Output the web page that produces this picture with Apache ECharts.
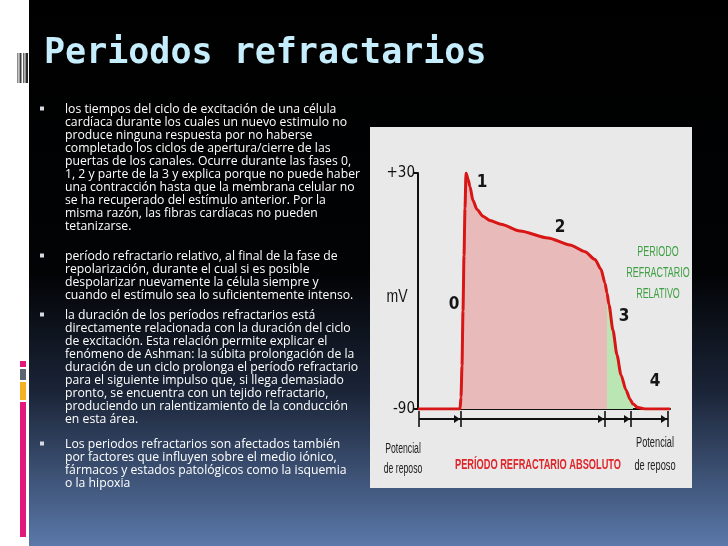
<!DOCTYPE html>
<html><head><meta charset="utf-8">
<script src="https://cdn.jsdelivr.net/npm/echarts@6/dist/echarts.min.js"></script>
<style>html,body{margin:0;padding:0;background:#fff;overflow:hidden}#c{width:728px;height:546px}</style>
</head><body><div id="c"></div>
<script>
// ---- data ----
const titleText = 'Periodos refractarios';
const bullet1Lines = [
  'los tiempos del ciclo de excitación de una célula',
  'cardíaca durante los cuales un nuevo estimulo no',
  'produce ninguna respuesta por no haberse',
  'completado los ciclos de apertura/cierre de las',
  'puertas de los canales. Ocurre durante las fases 0,',
  '1, 2 y parte de la 3 y explica porque no puede haber',
  'una contracción hasta que la membrana celular no',
  'se ha recuperado del estímulo anterior. Por la',
  'misma razón, las fibras cardíacas no pueden',
  'tetanizarse.'
];
const bullet2Lines = [
  'período refractario relativo, al final de la fase de',
  'repolarización, durante el cual si es posible',
  'despolarizar nuevamente la célula siempre y',
  'cuando el estímulo sea lo suficientemente intenso.'
];
const bullet3Lines = [
  'la duración de los períodos refractarios está',
  'directamente relacionada con la duración del ciclo',
  'de excitación. Esta relación permite explicar el',
  'fenómeno de Ashman: la súbita prolongación de la',
  'duración de un ciclo prolonga el período refractario',
  'para el siguiente impulso que, si llega demasiado',
  'pronto, se encuentra con un tejido refractario,',
  'produciendo un ralentizamiento de la conducción',
  'en esta área.'
];
const bullet4Lines = [
  'Los periodos refractarios son afectados también',
  'por factores que influyen sobre el medio iónico,',
  'fármacos y estados patológicos como la isquemia',
  'o la hipoxia'
];
// action potential: time (arbitrary units) and membrane potential (mV)
const timeUnits = [0, 42, 43, 44, 45, 46, 47, 48, 50, 52, 55, 59, 65, 72, 83, 102, 130, 152, 167, 177, 183, 187, 189, 191, 195, 199, 203, 208, 212, 215, 220, 227, 252];
const membraneMv = [-90, -90, -84, -68, -40, -12, 12, 30, 27, 23, 16, 11.5, 8, 5.8, 4, 0.5, -3, -6.6, -10, -14, -19, -26, -31, -37, -50, -62.5, -72.7, -80.3, -85, -87.5, -89.3, -90, -90];
const upstrokeStart = 42;   // start of absolute refractory period
const absoluteEnd = 189;    // end of absolute refractory fill
const relativeEnd = 215;    // end of relative refractory fill
const yTickValues = [-90, 30];
const phaseNames = ['0', '1', '2', '3', '4'];
const phaseTime = [36, 64, 142, 206, 237];
const phaseMv = [-37, 25, 2, -43, -76];
const periodBounds = [1, 43, 187, 213, 250];
const relativeLabel = ['PERIODO', 'REFRACTARIO', 'RELATIVO'];
const absoluteLabel = 'PERÍODO REFRACTARIO ABSOLUTO';
const restLabel = ['Potencial', 'de reposo'];

// ---- build ----
const curve = timeUnits.map((t, i) => [t, membraneMv[i]]);
const absFill = curve.filter(p => p[0] >= upstrokeStart && p[0] <= absoluteEnd);
const relFill = curve.filter(p => p[0] >= absoluteEnd && p[0] <= relativeEnd);
const NARROW = "'Liberation Sans Narrow','DejaVu Sans Condensed',sans-serif";

const chart = echarts.init(document.getElementById('c'), null, {renderer: 'canvas'});
const option = {
  animation: false,
  backgroundColor: 'transparent',
  grid: {left: 418, top: 173, width: 252, height: 236, containLabel: false},
  xAxis: {
    type: 'value', min: 0, max: 252,
    axisLine: {show: true, onZero: false, lineStyle: {color: '#111', width: 2}},
    axisTick: {show: false}, axisLabel: {show: false}, splitLine: {show: false}
  },
  yAxis: {
    type: 'value', min: yTickValues[0], max: yTickValues[1], interval: yTickValues[1] - yTickValues[0],
    axisLine: {show: true, lineStyle: {color: '#111', width: 2}},
    axisTick: {show: true, length: 5, lineStyle: {color: '#111', width: 2}},
    axisLabel: {show: true, margin: 3, color: '#111', fontSize: 15, fontFamily: NARROW,
      formatter: v => (v > 0 ? '+' + v : String(v))},
    splitLine: {show: false}
  },
  series: [
    {type: 'line', data: absFill, smooth: 0.25, smoothMonotone: 'x', showSymbol: false, silent: true,
      lineStyle: {width: 0}, areaStyle: {color: '#e8baba', opacity: 1, origin: 'start'}, z: 1},
    {type: 'line', data: relFill, smooth: 0.25, smoothMonotone: 'x', showSymbol: false, silent: true,
      lineStyle: {width: 0}, areaStyle: {color: '#b9e6b3', opacity: 1, origin: 'start'}, z: 1},
    {type: 'line', data: curve, smooth: 0.25, smoothMonotone: 'x', showSymbol: false, silent: true,
      lineStyle: {color: '#d81616', width: 3}, z: 3,
      markPoint: {
        symbol: 'circle', symbolSize: 0, silent: true,
        label: {show: true, position: 'inside', formatter: p => p.name, color: '#151515',
          fontSize: 17, fontWeight: 'bold', fontFamily: NARROW},
        data: phaseNames.map((n, i) => ({name: n, coord: [phaseTime[i], phaseMv[i]]}))
      }}
  ]
};
chart.setOption(option);

// ---- decorations / annotations ----
const els = [];
// slide background
els.push({type: 'rect', z: -20, shape: {x: 0, y: 0, width: 728, height: 546}, style: {fill: '#ffffff'}});
els.push({type: 'rect', z: -19, shape: {x: 29, y: 0, width: 699, height: 546},
  style: {fill: new echarts.graphic.LinearGradient(0, 0, 0, 1, [
    {offset: 0, color: '#000000'}, {offset: 0.5, color: '#020305'},
    {offset: 0.72, color: '#1b2538'}, {offset: 1, color: '#5a78a9'}])}});
// barcode
[[17, 1.5, '#8a8a8a'], [19.5, 2, '#3a3a3a'], [23, 1.5, '#666'], [25.5, 2.5, '#2a2a2a']].forEach(b =>
  els.push({type: 'rect', z: -18, shape: {x: b[0], y: 53, width: b[1], height: 30}, style: {fill: b[2]}}));
// colour bars
[[361, 6, '#e0197b'], [369, 11, '#5c6572'], [382, 18, '#f4b123'], [402, 135, '#e0197b']].forEach(b =>
  els.push({type: 'rect', z: -18, shape: {x: 20, y: b[0], width: 6, height: b[1]}, style: {fill: b[2]}}));
// title
els.push({type: 'text', z: 5, x: 44, y: 36, style: {text: titleText, fill: '#c6edfb',
  font: "bold 35px 'DejaVu Sans Mono', monospace", verticalAlign: 'top'}});
// bullets
const lineStep = 13;
const blocks = [[bullet1Lines, 109], [bullet2Lines, 256], [bullet3Lines, 315], [bullet4Lines, 444]];
blocks.forEach(([lines, y0]) => {
  els.push({type: 'rect', z: 5, shape: {x: 40, y: y0 - 2.5, width: 4, height: 4}, style: {fill: '#d6d8e2'}});
  lines.forEach((ln, i) => els.push({type: 'text', z: 5, x: 65, y: y0 + i * lineStep, scaleX: 0.94,
    style: {text: ln, fill: '#ffffff', font: "13px 'Open Sans', sans-serif", verticalAlign: 'middle'}}));
});
// chart panel
els.push({type: 'rect', z: -15, shape: {x: 370, y: 127, width: 322, height: 361}, style: {fill: '#e9e9e9'}});
// mV label
els.push({type: 'text', z: 5, x: 397, y: 297, scaleX: 0.78, style: {text: 'mV', fill: '#151515',
  font: "18px 'Liberation Sans', sans-serif", align: 'center', verticalAlign: 'middle'}});
// relative period label
relativeLabel.forEach((s, i) => els.push({type: 'text', z: 5, x: 658, y: 252 + i * 21, scaleX: 0.64,
  style: {text: s, fill: '#3ea043', font: "14px 'Liberation Sans', sans-serif", align: 'center', verticalAlign: 'middle'}}));
// period arrows
const baseY = chart.convertToPixel({yAxisIndex: 0}, -90);
const bx = periodBounds.map(t => chart.convertToPixel({xAxisIndex: 0}, t));
const ay = baseY + 10;
els.push({type: 'line', z: 5, shape: {x1: bx[0], y1: ay, x2: bx[bx.length - 1], y2: ay}, style: {stroke: '#111', lineWidth: 2}});
bx.forEach((x, i) => {
  els.push({type: 'line', z: 5, shape: {x1: x, y1: ay - 8, x2: x, y2: ay + 8}, style: {stroke: '#111', lineWidth: 1.6}});
  if (i > 0) els.push({type: 'polygon', z: 5, shape: {points: [[x - 1, ay], [x - 7, ay - 4], [x - 7, ay + 4]]}, style: {fill: '#111'}});
});
// bottom labels
restLabel.forEach((s, i) => {
  els.push({type: 'text', z: 5, x: 403, y: 449 + i * 20, scaleX: 0.62, style: {text: s, fill: '#222',
    font: "14px 'Liberation Sans', sans-serif", align: 'center', verticalAlign: 'middle'}});
  els.push({type: 'text', z: 5, x: 655, y: 443 + i * 23, scaleX: 0.66, style: {text: s, fill: '#222',
    font: "14px 'Liberation Sans', sans-serif", align: 'center', verticalAlign: 'middle'}});
});
els.push({type: 'text', z: 5, x: 538, y: 465, scaleX: 0.66, style: {text: absoluteLabel, fill: '#e0252a',
  font: "bold 14px 'Liberation Sans', sans-serif", align: 'center', verticalAlign: 'middle'}});

chart.setOption({graphic: {elements: els}});
</script></body></html>
